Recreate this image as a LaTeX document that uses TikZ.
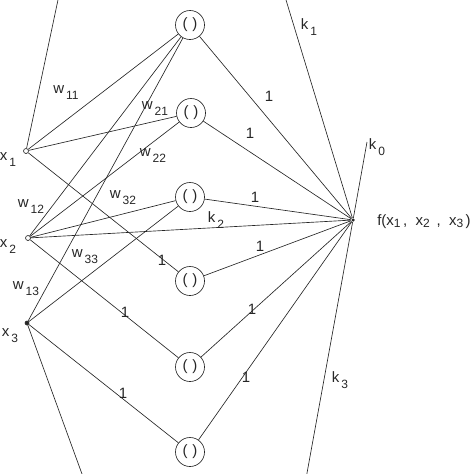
\documentclass[tikz,border=0pt]{standalone}
\usepackage{fontspec}
\setmainfont{Liberation Sans}
\newcommand{\lab}[2]{#1\kern2pt\raisebox{-6pt}{\fontsize{12}{12}\selectfont #2}}
\newcommand{\fsub}[1]{\raisebox{-1.5pt}{\fontsize{12}{12}\selectfont #1}}
\tikzset{
  neuron/.style={circle, draw, minimum size=29pt, inner sep=0pt},
  inp/.style={circle, draw, minimum size=5pt, inner sep=0pt},
}
\begin{document}
\begin{tikzpicture}[x=1pt,y=-1pt,color=black!85,line width=0.65pt,font=\fontsize{15}{17}\selectfont]
\useasboundingbox (0,0) rectangle (474,474);
\clip (0,0) rectangle (474,474);
% inputs, hidden units, output
\node[inp] (x1) at (26,151) {};
\node[inp] (x2) at (28,238) {};
\node[inp, fill, minimum size=4pt] (x3) at (27,323) {};
\node[neuron] (h1) at (190,25) {(\,\,)};
\node[neuron] (h2) at (191,113) {(\,\,)};
\node[neuron] (h3) at (190,197) {(\,\,)};
\node[neuron] (h4) at (190,281) {(\,\,)};
\node[neuron] (h5) at (190,367) {(\,\,)};
\node[neuron] (h6) at (190,452) {(\,\,)};
\node[circle, fill, inner sep=0pt, minimum size=3.5pt] (f) at (353,220) {};
\coordinate (x1end) at (58.6,-3);
\coordinate (x3end) at (83.1,477);
\coordinate (k1end) at (285.1,-3);
\coordinate (k3end) at (306.3,477);
\coordinate (k0end) at (367,142);
% input connections
\draw (x1end)--(x1)--(h1);
\draw (x1)--(h2);
\draw (x1)--(h4);
\draw (x2)--(h1);
\draw (x2)--(h2);
\draw (x2)--(h3);
\draw (x2)--(f);
\draw (x2)--(h5);
\draw (x3end)--(x3)--(h1);
\draw (x3)--(h3);
\draw (x3)--(h6);
% to output
\draw (h1)--(f);
\draw (h2)--(f);
\draw (h3)--(f);
\draw (h4)--(f);
\draw (h5)--(f);
\draw (h6)--(f);
\draw (k1end)--(f)--(k3end);
\draw (f)--(k0end);
% labels
\node (lx1) at (8,160) {\lab{x}{1}};
\node (lx2) at (8,247) {\lab{x}{2}};
\node (lx3) at (10,336) {\lab{x}{3}};
\node (lw11) at (66,93) {\lab{w}{11}};
\node (lw21) at (155,109) {\lab{w}{21}};
\node (lw22) at (153,156) {\lab{w}{22}};
\node (lw32) at (123,198) {\lab{w}{32}};
\node (lw12) at (31,207) {\lab{w}{12}};
\node (lw33) at (85,257) {\lab{w}{33}};
\node (lw13) at (26,289) {\lab{w}{13}};
\node (lk2) at (216,220) {\lab{k}{2}};
\node (lk1) at (309,27) {\lab{k}{1}};
\node (lk0) at (377,147) {\lab{k}{0}};
\node (lk3) at (340,380) {\lab{k}{3}};
\node (l14) at (162,260) {1};
\node (l25) at (125,312) {1};
\node (l36) at (123,393) {1};
\node (lo1) at (269,96) {1};
\node (lo2) at (250,133) {1};
\node (lo3) at (255,197) {1};
\node (lo4) at (260,246) {1};
\node (lo5) at (252,309) {1};
\node (lo6) at (246,377) {1};
\node[anchor=west, inner sep=0pt] (lf) at (377,222) {f(x\fsub{1}\,,\ \ x\fsub{2}\ \,,\ \ x\fsub{3}\,)};
\end{tikzpicture}
\end{document}
